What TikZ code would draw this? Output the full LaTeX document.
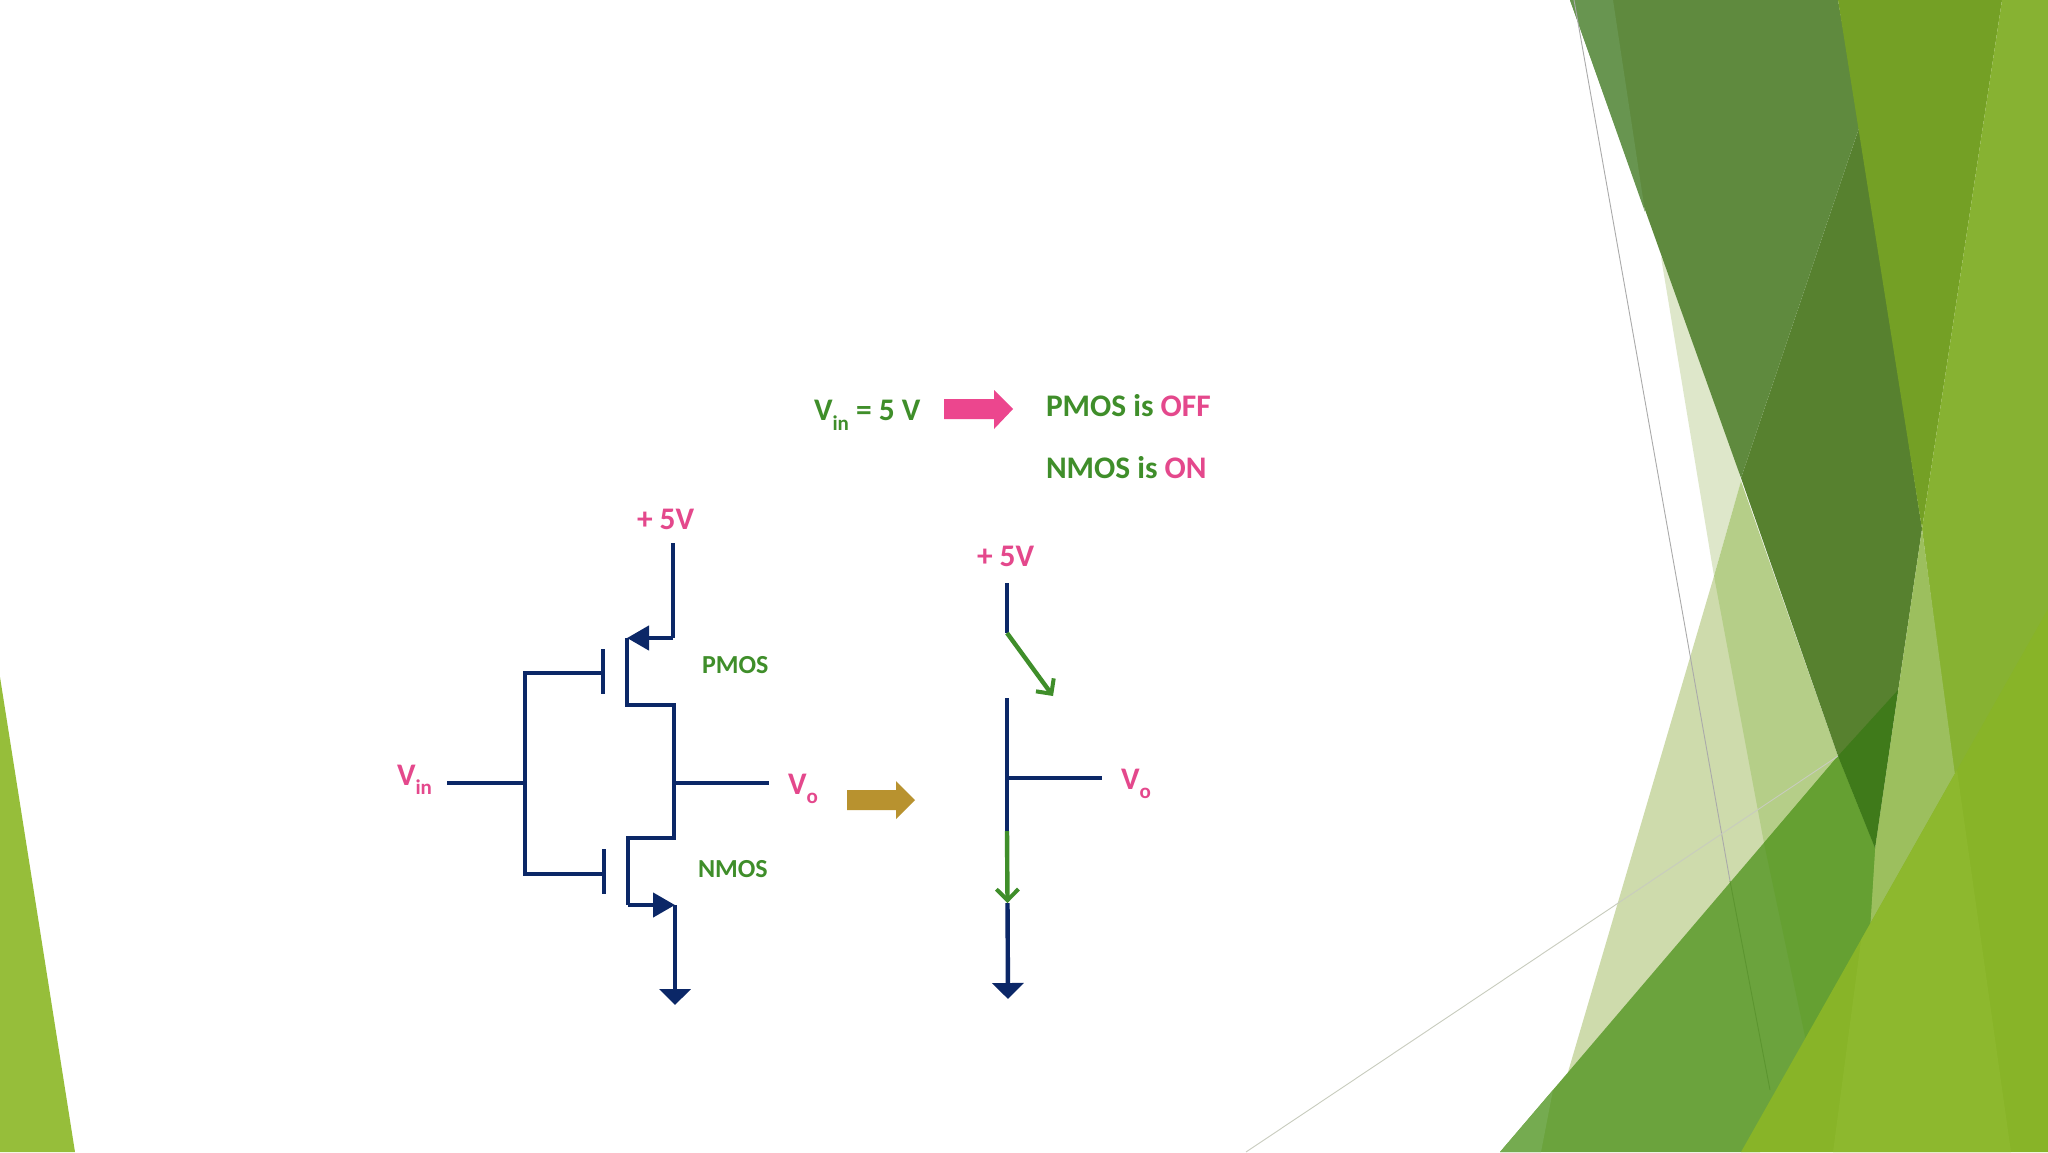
\documentclass[tikz,border=0pt]{standalone}
\usepackage{fontspec}
\setmainfont{Carlito}
\usetikzlibrary{arrows.meta}
\definecolor{wire}{HTML}{0B2767}
\definecolor{pinktxt}{HTML}{E4488C}
\definecolor{pinkarrow}{HTML}{EC468E}
\definecolor{greentxt}{HTML}{3F8E2A}
\definecolor{goldarrow}{HTML}{B8922F}
\definecolor{fLeft}{RGB}{150,190,58}
\definecolor{fPaleA}{RGB}{222,231,202}
\definecolor{fPaleB}{RGB}{206,219,172}
\definecolor{fPaleC}{RGB}{181,206,136}
\definecolor{fBandLow}{RGB}{87,129,47}
\definecolor{fBandUp}{RGB}{95,138,62}
\definecolor{fBandTip}{RGB}{104,149,80}
\definecolor{fOlive}{RGB}{116,160,37}
\definecolor{fLime}{RGB}{135,178,50}
\definecolor{fMidLight}{RGB}{156,191,94}
\definecolor{fGreenA}{RGB}{107,163,61}
\definecolor{fGreenB}{RGB}{101,160,50}
\definecolor{fGreenTip}{RGB}{117,171,80}
\definecolor{fDeep}{RGB}{63,122,26}
\definecolor{fBrightA}{RGB}{136,180,40}
\definecolor{fBrightB}{RGB}{141,184,46}
\definecolor{lnGrey}{RGB}{170,170,170}
\definecolor{lnGreen}{RGB}{92,149,48}
\definecolor{lnPale}{RGB}{200,204,190}
\newcommand{\lowsub}[2]{\raisebox{#1}{\fontsize{10.5}{12}\selectfont #2}}
\tikzset{
  x=0.5pt,y=-0.5pt,
  wireline/.style={draw=wire,line width=2.2pt,line cap=butt,line join=miter},
  plate/.style={draw=wire,line width=1.9pt},
  switchline/.style={draw=greentxt,line width=2.2pt,-{Straight Barb[length=5.5pt,width=11pt,line width=2pt]}},
  fillP/.style={-{Triangle[length=11pt,width=12pt]},wireline},
  gnd/.style={-{Triangle[length=8pt,width=15.5pt]},wireline},
  lab/.style={anchor=base west,inner sep=0pt,outer sep=0pt,font=\bfseries\fontsize{15.7}{18}\selectfont},
  smalllab/.style={anchor=base west,inner sep=0pt,outer sep=0pt,text=greentxt,font=\bfseries\fontsize{13}{15}\selectfont},
  thin1/.style={line width=0.45pt}
}
\begin{document}
\begin{tikzpicture}
\useasboundingbox (0,0) rectangle (2048,1152);
\fill[white] (0,0) rectangle (2048,1152);
% left facet
\fill[fLeft] (0,677) -- (75,1152) -- (0,1152) -- cycle;
% pale facets
\fill[fPaleA] (1661,257) -- (1714,576) -- (1741,481) -- (1700,300) -- cycle;
\fill[fPaleB] (1714,576) -- (1568,1072) -- (1600,1072) -- (1790,843) -- cycle;
\fill[fPaleC] (1741,481) -- (1714,576) -- (1764,843) -- (1790,843) -- (1838,756) -- cycle;
% dark band
\fill[fBandLow] (1741,478) -- (1860,125) -- (1922,529) -- (1875,848) -- (1838,756) -- cycle;
\fill[fBandUp] (1570,0) -- (1838,0) -- (1860,125) -- (1741,478) -- cycle;
\fill[fBandTip] (1570,0) -- (1613,0) -- (1645,212) -- cycle;
% olive and lime
\fill[fOlive] (1838,0) -- (2002,0) -- (1922,529) -- cycle;
\fill[fLime] (2002,0) -- (2048,0) -- (2048,720) -- (1957,800) -- (1922,529) -- cycle;
\fill[fMidLight] (1922,529) -- (1957,790) -- (1850,1000) -- (1875,848) -- cycle;
% mid green
\fill[fGreenA] (1838,756) -- (1500,1152) -- (1760,1152) -- (1868,960) -- (1875,848) -- cycle;
\fill[fGreenB] (1764,843) -- (1838,756) -- (1875,848) -- (1868,960) -- (1810,1060) -- cycle;
\fill[fGreenTip] (1500,1152) -- (1541,1152) -- (1553,1090) -- cycle;
\fill[fDeep] (1838,756) -- (1898,690) -- (1875,848) -- cycle;
% bright front
\fill[fBrightA] (2048,609) -- (2048,1152) -- (1741,1152) -- cycle;
\fill[fBrightB] (1861,940) -- (1957,770) -- (2011,1152) -- (1833,1152) -- cycle;
% thin lines
\draw[thin1,draw=lnGrey] (1574,0) -- (1730,881);
\draw[thin1,draw=lnGreen] (1730,881) -- (1770,1090);
\draw[thin1,draw=lnPale] (1246,1152) -- (1838,756);

% left circuit
\coordinate (vdd) at (673,543); \coordinate (ps) at (673,638); \coordinate (pt) at (627,638);
\coordinate (pd) at (627,705); \coordinate (pr) at (674,705); \coordinate (nr) at (674,838);
\coordinate (nd) at (628,838); \coordinate (ns) at (628,905); \coordinate (nt) at (675,905);
\coordinate (lg) at (675,1005); \coordinate (gpt) at (603,649); \coordinate (gpb) at (603,694);
\coordinate (gp) at (603,673); \coordinate (gl) at (525,673); \coordinate (gb) at (525,874);
\coordinate (gn) at (604,874); \coordinate (gnt) at (604,849); \coordinate (gnb) at (604,894);
\coordinate (vina) at (447,783); \coordinate (vinb) at (525,783); \coordinate (voa) at (674,783); \coordinate (vob) at (769,783);
\draw[wireline] (vdd) -- (ps);
\draw[fillP] (ps) -- (pt);
\draw[wireline] (pt) -- (pd) -- (pr) -- (nr) -- (nd) -- (ns);
\draw[fillP] (ns) -- (nt);
\draw[gnd] (nt) -- (lg);
\draw[plate] (gpt) -- (gpb);
\draw[plate] (gnt) -- (gnb);
\draw[wireline] (gp) -- (gl) -- (gb) -- (gn);
\draw[wireline] (vina) -- (vinb);
\draw[wireline] (voa) -- (vob);

% right circuit
\coordinate (ra) at (1007,583); \coordinate (rb) at (1007,633); \coordinate (rs) at (1053,696);
\coordinate (rc) at (1007,698); \coordinate (rd) at (1007,831); \coordinate (re) at (1007.5,903);
\coordinate (rg) at (1008,999); \coordinate (rv) at (1007,778); \coordinate (rw) at (1102,778);
\draw[wireline] (ra) -- (rb);
\draw[wireline] (rc) -- (rd);
\draw[wireline] (rv) -- (rw);
\draw[gnd] (re) -- (rg);
\draw[switchline] (rb) -- (rs);
\draw[switchline] (rd) -- (re);

% block arrows
\fill[pinkarrow] (944,399) -- (994,399) -- (994,390) -- (1013,409) -- (994,429) -- (994,419) -- (944,419) -- cycle;
\fill[goldarrow] (847,790) -- (896,790) -- (896,781) -- (915,800) -- (896,819) -- (896,810) -- (847,810) -- cycle;

% text
\node[lab,text=greentxt] (vineq) at (814,420) {V\lowsub{-0.32em}{in} = 5 V};
\node[lab,text=greentxt] (poff) at (1046,416) {PMOS is \textcolor{pinktxt}{OFF}};
\node[lab,text=greentxt] (non) at (1046,478) {NMOS is \textcolor{pinktxt}{ON}};
\node[lab,text=pinktxt] (p5l) at (637,529) {+ 5V};
\node[lab,text=pinktxt] (p5r) at (977,566) {+ 5V};
\node[smalllab] (pm) at (702,673) {PMOS};
\node[smalllab] (nm) at (698,877) {NMOS};
\node[lab,text=pinktxt] (vin) at (397,785) {V\lowsub{-0.3em}{in}};
\node[lab,text=pinktxt] (vo1) at (788,794) {V\lowsub{-0.3em}{o}};
\node[lab,text=pinktxt] (vo2) at (1121,789) {V\lowsub{-0.3em}{o}};
\end{tikzpicture}
\end{document}
